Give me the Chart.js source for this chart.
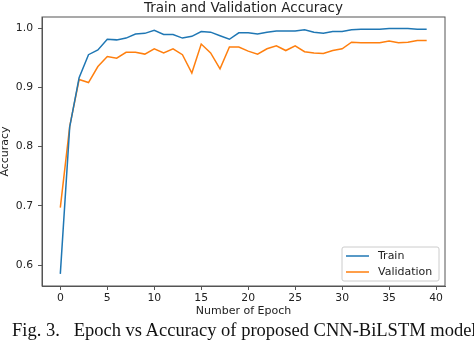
<!DOCTYPE html>
<html>
<head>
<meta charset="utf-8">
<script src="https://cdn.jsdelivr.net/npm/chart.js@4.4.1/dist/chart.umd.min.js"></script>
<style>
  html, body { margin: 0; padding: 0; background: #fff; }
  #wrap { position: relative; width: 474px; height: 345px; overflow: hidden; }
  #caption {
    position: absolute; left: 12px; top: 320px;
    font-family: "Liberation Serif", "Times New Roman", serif;
    font-size: 18.5px; line-height: 20px; color: #111;
    white-space: pre;
  }
</style>
</head>
<body>
<div id="wrap">
  <canvas id="accChart"></canvas>
  <div id="caption">Fig. 3.   Epoch vs Accuracy of proposed CNN-BiLSTM model</div>
</div>
<script>
const epochs = [0, 1, 2, 3, 4, 5, 6, 7, 8, 9, 10, 11, 12, 13, 14, 15, 16, 17, 18, 19,
    20, 21, 22, 23, 24, 25, 26, 27, 28, 29, 30, 31, 32, 33, 34, 35, 36, 37, 38, 39];
const trainAcc = [0.585, 0.833, 0.916, 0.955, 0.963, 0.981, 0.980, 0.983, 0.990, 0.991,
    0.996, 0.989, 0.989, 0.983, 0.986, 0.994, 0.993, 0.987, 0.981, 0.992,
    0.992, 0.990, 0.993, 0.995, 0.995, 0.995, 0.997, 0.993, 0.991, 0.994,
    0.994, 0.997, 0.998, 0.998, 0.998, 0.999, 0.999, 0.999, 0.998, 0.998];
const valAcc = [0.697, 0.834, 0.913, 0.908, 0.935, 0.952, 0.949, 0.959, 0.959, 0.956,
    0.965, 0.958, 0.965, 0.955, 0.924, 0.973, 0.958, 0.931, 0.968, 0.968,
    0.961, 0.956, 0.965, 0.970, 0.962, 0.970, 0.960, 0.958, 0.957, 0.962,
    0.965, 0.976, 0.975, 0.975, 0.975, 0.978, 0.975, 0.976, 0.979, 0.979];
const xTicks = [0, 5, 10, 15, 20, 25, 30, 35, 40];
const yTicks = [0.6, 0.7, 0.8, 0.9, 1.0];

const frameColor = '#555';
const sans = '"DejaVu Sans", sans-serif';

const framePlugin = {
    id: 'frame',
    afterDraw(chart) {
        const { ctx, chartArea: a } = chart;
        ctx.save();
        ctx.strokeStyle = frameColor;
        ctx.lineWidth = 1;
        ctx.strokeRect(a.left, a.top, a.right - a.left, a.bottom - a.top);

        // title
        ctx.fillStyle = '#222';
        ctx.font = '13.5px ' + sans;
        ctx.textAlign = 'center';
        ctx.textBaseline = 'alphabetic';
        ctx.fillText('Train and Validation Accuracy', (a.left + a.right) / 2, 11.5);

        // legend
        const lx = 342, ly = 247, lw = 97, lh = 34;
        ctx.fillStyle = 'rgba(255,255,255,0.85)';
        ctx.strokeStyle = '#ccc';
        ctx.beginPath();
        ctx.roundRect(lx, ly, lw, lh, 2);
        ctx.fill();
        ctx.stroke();
        const items = [['Train', '#1f77b4', 256], ['Validation', '#ff7f0e', 272]];
        ctx.font = '11px ' + sans;
        ctx.textAlign = 'left';
        ctx.textBaseline = 'middle';
        items.forEach(([txt, col, y]) => {
            ctx.strokeStyle = col;
            ctx.lineWidth = 1.5;
            ctx.beginPath();
            ctx.moveTo(346, y);
            ctx.lineTo(369, y);
            ctx.stroke();
            ctx.fillStyle = '#222';
            ctx.fillText(txt, 378, y);
        });
        ctx.restore();
    }
};

const ctx = document.getElementById('accChart').getContext('2d');
const accChart = new Chart(ctx, {
    type: 'line',
    data: {
        labels: epochs,
        datasets: [{
            label: 'Train',
            data: epochs.map((e, i) => ({ x: e, y: trainAcc[i] })),
            borderColor: '#1f77b4',
            borderWidth: 1.5,
            pointRadius: 0,
            tension: 0
        }, {
            label: 'Validation',
            data: epochs.map((e, i) => ({ x: e, y: valAcc[i] })),
            borderColor: '#ff7f0e',
            borderWidth: 1.5,
            pointRadius: 0,
            tension: 0
        }]
    },
    options: {
        responsive: true,
        maintainAspectRatio: false,
        animation: false,
        layout: {
            padding: { top: 17, right: 29, left: 0, bottom: 0 }
        },
        plugins: {
            legend: { display: false },
            title: { display: false },
            tooltip: { enabled: false }
        },
        scales: {
            x: {
                type: 'linear',
                min: -1.95,
                max: 40.95,
                afterFit: function (scale) { scale.height = 59; },
                afterBuildTicks: function (scale) {
                    scale.ticks = xTicks.map(v => ({ value: v }));
                },
                grid: { drawOnChartArea: false, drawTicks: true, tickLength: 4, color: frameColor },
                border: { display: true, color: frameColor },
                ticks: {
                    autoSkip: false, maxRotation: 0, padding: 2,
                    color: '#222', font: { family: sans, size: 10.8 }
                },
                title: {
                    display: true, text: 'Number of Epoch', color: '#222',
                    font: { family: sans, size: 11 }, padding: { top: 0, bottom: 27.7 }
                }
            },
            y: {
                min: 0.5646,
                max: 1.0186,
                afterFit: function (scale) { scale.width = 42; },
                afterBuildTicks: function (scale) {
                    scale.ticks = yTicks.map(v => ({ value: v }));
                },
                grid: { drawOnChartArea: false, drawTicks: true, tickLength: 4, color: frameColor },
                border: { display: true, color: frameColor },
                ticks: {
                    padding: 5, color: '#222', font: { family: sans, size: 10.8 },
                    callback: function (v) { return v.toFixed(1); }
                },
                title: {
                    display: true, text: 'Accuracy', color: '#222',
                    font: { family: sans, size: 11, lineHeight: 1.0 }, padding: 0
                }
            }
        }
    },
    plugins: [framePlugin]
});
</script>
</body>
</html>
